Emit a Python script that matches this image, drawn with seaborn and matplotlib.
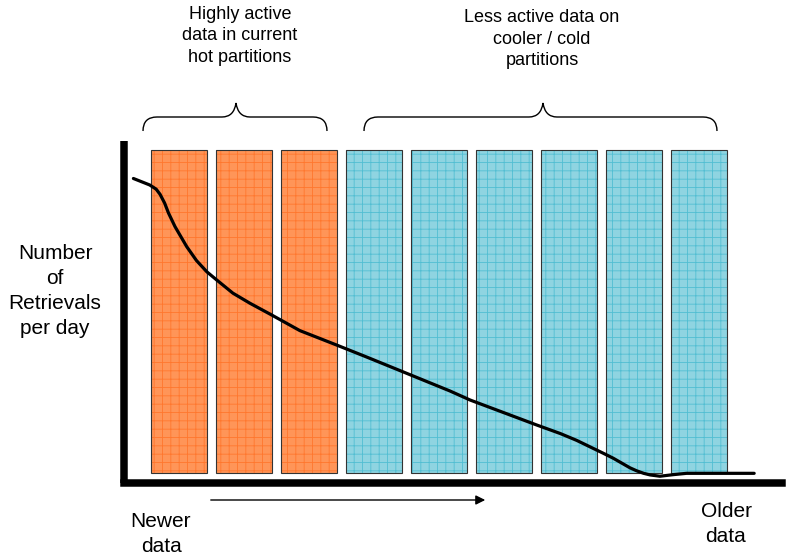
import matplotlib.pyplot as plt
import seaborn as sns
import pandas as pd
from matplotlib.path import Path
from matplotlib.patches import PathPatch

# partitions, newest -> oldest
partition_temp = ["hot", "hot", "hot", "cold", "cold", "cold", "cold", "cold", "cold"]
partition_fill = [100, 100, 100, 100, 100, 100, 100, 100, 100]
temp_colors = {"hot": ("#FF9558", "#FF772E"), "cold": ("#8FD4E1", "#52BED2")}

# retrievals per day curve (x in partition units, y in % of partition height)
age = [-0.27, -0.02, 0.08, 0.14, 0.21, 0.27, 0.37, 0.55, 0.70, 0.86, 1.01, 1.26,
       1.52, 1.86, 2.29, 2.86, 3.32, 3.93, 4.60, 4.91, 5.93, 6.30, 6.55, 6.96,
       7.11, 7.37, 7.47, 7.58, 7.68, 7.83, 8.04, 8.24, 9.28]
retrievals = [91.2, 89.2, 87.9, 86.3, 83.6, 80.5, 76.3, 70.1, 65.8, 62.3, 59.8, 55.7,
              52.6, 48.9, 44.1, 39.6, 35.9, 30.9, 25.4, 22.6, 14.9, 12.2, 10.1, 6.1,
              4.6, 1.6, 0.7, -0.1, -0.6, -1.0, -0.5, -0.1, -0.1]

sns.set_style("white")
plt.rcParams["font.family"] = ["Liberation Sans", "DejaVu Sans"]
plt.rcParams["hatch.linewidth"] = 0.6
plt.rcParams["text.color"] = "black"

fig = plt.figure(figsize=(7.86, 5.55), dpi=100)
ax = fig.add_axes([0.1574, 0.1297, 0.8375, 0.6162])

# partitions
idx = list(range(len(partition_temp)))
for i, t in enumerate(partition_temp):
    fill, line = temp_colors[t]
    ax.bar(i, partition_fill[i], width=0.862, align="edge", color=fill,
           edgecolor=line, hatch="++", linewidth=0, zorder=1)
ax.bar(idx, partition_fill, width=0.862, align="edge", fill=False,
       edgecolor="#333333", linewidth=0.8, zorder=2)

df = pd.DataFrame({"age": age, "retrievals": retrievals})
sns.lineplot(data=df, x="age", y="retrievals", color="black", linewidth=2.3,
             ax=ax, zorder=3, solid_capstyle="round", solid_joinstyle="round")

ax.set_xlim(-0.419, 9.708)
ax.set_ylim(-3.1, 102.8)
ax.set_xticks([])
ax.set_yticks([])
ax.set_xlabel("")
ax.set_ylabel("")
for s in ["top", "right"]:
    ax.spines[s].set_visible(False)
for s in ["left", "bottom"]:
    ax.spines[s].set_linewidth(5.4)
    ax.spines[s].set_color("black")
ax.spines["left"].set_capstyle("butt")

# annotation layer in pixel coordinates
ov = fig.add_axes([0, 0, 1, 1], zorder=5)
ov.set_xlim(0, 786)
ov.set_ylim(555, 0)
ov.axis("off")
ov.patch.set_alpha(0)


def brace(x0, x1, xm, ybase=131, yflat=117, ytip=103):
    verts = [(x0, ybase), (x0, yflat), (x0 + 14, yflat),
             (xm - 14, yflat),
             (xm - 2, yflat), (xm, ytip),
             (xm + 2, yflat), (xm + 14, yflat),
             (x1 - 14, yflat),
             (x1, yflat), (x1, ybase)]
    codes = [Path.MOVETO, Path.CURVE3, Path.CURVE3, Path.LINETO,
             Path.CURVE3, Path.CURVE3, Path.CURVE3, Path.CURVE3,
             Path.LINETO, Path.CURVE3, Path.CURVE3]
    ov.add_patch(PathPatch(Path(verts, codes), fill=False, lw=1.0, color="black"))


brace(143, 327, 236)
brace(364, 717, 543)

ov.text(240, 36, "Highly active\ndata in current\nhot partitions", ha="center",
        va="center", fontsize=13, linespacing=1.38)
ov.text(542, 39, "Less active data on\ncooler / cold\npartitions", ha="center",
        va="center", fontsize=13, linespacing=1.38)
ov.text(55, 291, "Number\nof\nRetrievals\nper day", ha="center", va="center",
        fontsize=15, linespacing=1.38)
ov.text(161, 534, "Newer\ndata", ha="center", va="center", fontsize=15, linespacing=1.38)
ov.text(726, 524, "Older\ndata", ha="center", va="center", fontsize=15, linespacing=1.38)
ov.annotate("", xy=(488, 500), xytext=(208, 500),
            arrowprops=dict(arrowstyle="-|>", color="black", lw=1.0, mutation_scale=14))

fig.savefig("out.png", dpi=100)
